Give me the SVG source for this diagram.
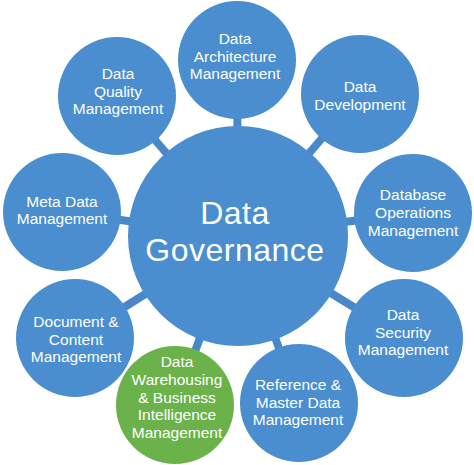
<svg xmlns="http://www.w3.org/2000/svg" width="474" height="465" viewBox="0 0 474 465">
<style>
.c{fill:#4a8ecf}
.g{fill:#6bb24b}
.t{fill:#ffffff;font-family:"Liberation Sans",Arial,sans-serif;font-size:15.5px;text-anchor:middle}
.big{font-size:32px;letter-spacing:0.5px}
.lk{stroke:#4888c8;stroke-width:8;fill:none}
</style>
<rect width="474" height="465" fill="#ffffff"/>
<g id="connectors">
<line class="lk" x1="238" y1="236" x2="237" y2="60"/>
<line class="lk" x1="238" y1="236" x2="117" y2="96"/>
<line class="lk" x1="238" y1="236" x2="360" y2="94"/>
<line class="lk" x1="238" y1="236" x2="62" y2="212"/>
<line class="lk" x1="238" y1="236" x2="413" y2="213"/>
<line class="lk" x1="238" y1="236" x2="75" y2="338"/>
<line class="lk" x1="238" y1="236" x2="175" y2="405"/>
<line class="lk" x1="238" y1="236" x2="299" y2="403"/>
<line class="lk" x1="238" y1="236" x2="404" y2="338"/>
</g>
<g id="center">
<circle class="c" cx="238" cy="236" r="110"/>
<text class="t big" x="235" y="224">Data</text>
<text class="t big" x="235" y="261">Governance</text>
</g>
<g id="architecture">
<circle class="c" cx="237" cy="60" r="59"/>
<text class="t" x="235" y="44">Data</text>
<text class="t" x="235" y="62">Architecture</text>
<text class="t" x="235" y="79">Management</text>
</g>
<g id="quality">
<circle class="c" cx="117" cy="96" r="59"/>
<text class="t" x="118" y="79">Data</text>
<text class="t" x="118" y="97">Quality</text>
<text class="t" x="118" y="114">Management</text>
</g>
<g id="development">
<circle class="c" cx="360" cy="94" r="59"/>
<text class="t" x="360" y="92">Data</text>
<text class="t" x="360" y="110">Development</text>
</g>
<g id="meta">
<circle class="c" cx="62" cy="212" r="59"/>
<text class="t" x="62" y="207">Meta Data</text>
<text class="t" x="62" y="224">Management</text>
</g>
<g id="dbops">
<circle class="c" cx="413" cy="213" r="59"/>
<text class="t" x="413" y="200">Database</text>
<text class="t" x="413" y="218">Operations</text>
<text class="t" x="413" y="236">Management</text>
</g>
<g id="document">
<circle class="c" cx="75" cy="338" r="59"/>
<text class="t" x="76" y="327">Document &amp;</text>
<text class="t" x="76" y="345">Content</text>
<text class="t" x="76" y="362">Management</text>
</g>
<g id="security">
<circle class="c" cx="404" cy="338" r="59"/>
<text class="t" x="403" y="320">Data</text>
<text class="t" x="403" y="338">Security</text>
<text class="t" x="403" y="355">Management</text>
</g>
<g id="reference">
<circle class="c" cx="299" cy="403" r="59"/>
<text class="t" x="298" y="390">Reference &amp;</text>
<text class="t" x="298" y="408">Master Data</text>
<text class="t" x="298" y="425">Management</text>
</g>
<g id="warehousing">
<circle class="g" cx="175" cy="405" r="59"/>
<text class="t" x="177" y="367">Data</text>
<text class="t" x="177" y="385">Warehousing</text>
<text class="t" x="177" y="403">&amp; Business</text>
<text class="t" x="177" y="420">Intelligence</text>
<text class="t" x="177" y="438">Management</text>
</g>
</svg>
